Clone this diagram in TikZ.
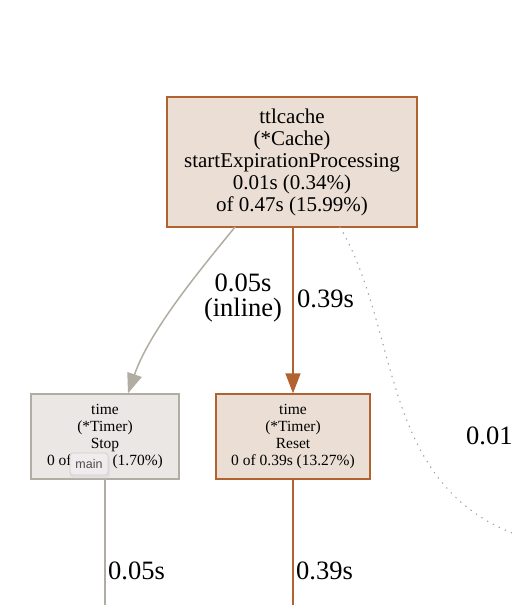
\documentclass[tikz,border=0pt]{standalone}
\usepackage{fontspec}
\setmainfont{Liberation Serif}
\setsansfont{Liberation Sans}
\usetikzlibrary{arrows.meta}
\definecolor{hotfill}{HTML}{EBDED4}
\definecolor{hotline}{HTML}{B2622E}
\definecolor{coldfill}{HTML}{EAE7E5}
\definecolor{coldline}{HTML}{B2ADA2}
\definecolor{dotgray}{HTML}{A0A0A0}
\definecolor{ttfill}{HTML}{F0EBEC}
\definecolor{ttline}{HTML}{D2CDCE}
\tikzset{
  big/.style={draw=hotline, fill=hotfill, line width=1.3pt, align=center, inner sep=0pt,
    font=\fontsize{21}{22}\selectfont, minimum width=250pt, minimum height=130pt},
  smallhot/.style={draw=hotline, fill=hotfill, line width=1.3pt, align=center, inner sep=0pt,
    font=\fontsize{15.5}{17}\selectfont, minimum width=154pt, minimum height=85pt},
  smallcold/.style={draw=coldline, fill=coldfill, line width=1.3pt, align=center, inner sep=0pt,
    font=\fontsize{15.5}{17}\selectfont, minimum width=148pt, minimum height=85pt},
  edgelbl/.style={font=\fontsize{26.5}{25}\selectfont, align=center, inner sep=0pt},
  hotedge/.style={draw=hotline, line width=1.5pt},
  coldedge/.style={draw=coldline, line width=1.5pt},
  tip/.style={-{Triangle[length=20pt,width=15pt]}},
  tooltip/.style={draw=ttline, fill=ttfill, line width=0.8pt, rounded corners=3pt, minimum width=38pt, minimum height=22pt, inner sep=0pt,
    font=\sffamily\fontsize{12.5}{13}\selectfont, text=black!70}
}
\begin{document}
\begin{tikzpicture}[x=1pt,y=-1pt]
\useasboundingbox[fill=white] (0,0) rectangle (512,605);
\node[big] (top) at (292,162) {ttlcache\\(*Cache)\\startExpirationProcessing\\0.01s (0.34\%)\\of 0.47s (15.99\%)};
\node[smallcold] (stop) at (105,436.5) {time\\(*Timer)\\Stop\\0 of \phantom{0.05s} (1.70\%)};
\node[smallhot] (reset) at (293,436.5) {time\\(*Timer)\\Reset\\0 of 0.39s (13.27\%)};
\coordinate (s1) at (235,227);
\coordinate (d1) at (340,227);
\coordinate (d2) at (512,533);
\coordinate (sb) at (105,605);
\coordinate (rb) at (293,605);
% edges
\draw[coldedge,tip] (s1) .. controls (200,270) and (150,330) .. (stop.north -| 128,0);
\draw[hotedge,tip] (top.south -| 293,0) -- (reset.north);
\draw[dotgray,line width=1.2pt,dash pattern=on 0.6pt off 6pt,line cap=round] (d1) .. controls (400,330) and (380,480) .. (d2);
\draw[coldedge] (stop.south) -- (sb);
\draw[hotedge] (reset.south) -- (rb);
% labels
\node[edgelbl] (l1) at (243,298) {0.05s\\(inline)};
\node[edgelbl, anchor=west] (l2) at (297,299) {0.39s};
\node[edgelbl, anchor=west] (l3) at (466,436) {0.01};
\node[edgelbl, anchor=west] (l4) at (108,571) {0.05s};
\node[edgelbl, anchor=west] (l5) at (296,571) {0.39s};
\fill[black!12, rounded corners=3pt] (70,456) rectangle (110,478);
\node[tooltip] (tt) at (89,464) {main};
\end{tikzpicture}
\end{document}
